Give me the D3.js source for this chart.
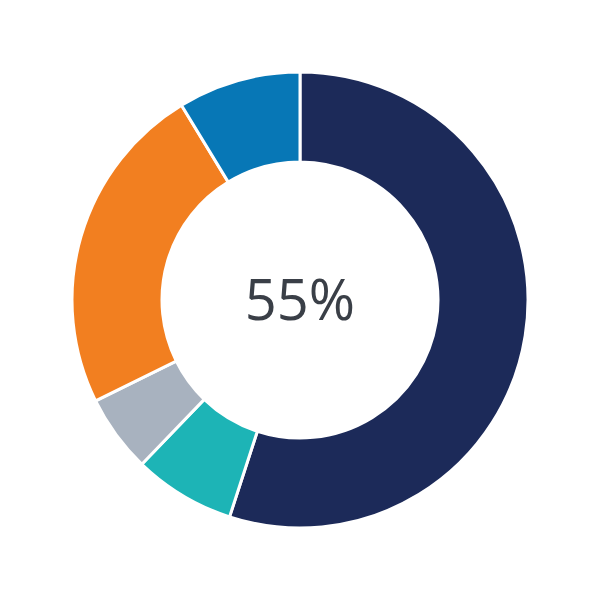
<!DOCTYPE html>
<html><head><meta charset="utf-8">
<script src="https://cdn.jsdelivr.net/npm/d3@7"></script>
<style>html,body{margin:0;padding:0;background:#fff;}</style>
</head><body>
<svg id="chart" width="600" height="600"></svg>
<script>
const categories = ["A", "B", "C", "D", "E"];
const values = [55, 7.2, 5.5, 23.6, 8.7];
const colors = ["#1c2a59", "#1db4b6", "#a8b2bf", "#f27f20", "#0777b6"];
const centerLabel = "55%";

const svg = d3.select("#chart");
const g = svg.append("g").attr("transform", "translate(300,300)");
const pie = d3.pie().sort(null).value(d => d.v);
const arc = d3.arc().innerRadius(138).outerRadius(228);
const data = categories.map((c, i) => ({c, v: values[i], col: colors[i]}));
g.selectAll("path").data(pie(data)).join("path")
  .attr("d", arc)
  .attr("fill", d => d.data.col)
  .attr("stroke", "#fff")
  .attr("stroke-width", 3);
g.append("text")
  .attr("text-anchor", "middle")
  .attr("dy", "0.35em")
  .attr("font-family", "'Open Sans', sans-serif")
  .attr("font-size", 56)
  .attr("fill", "#3a3f47")
  .text(centerLabel);
</script>
</body></html>
